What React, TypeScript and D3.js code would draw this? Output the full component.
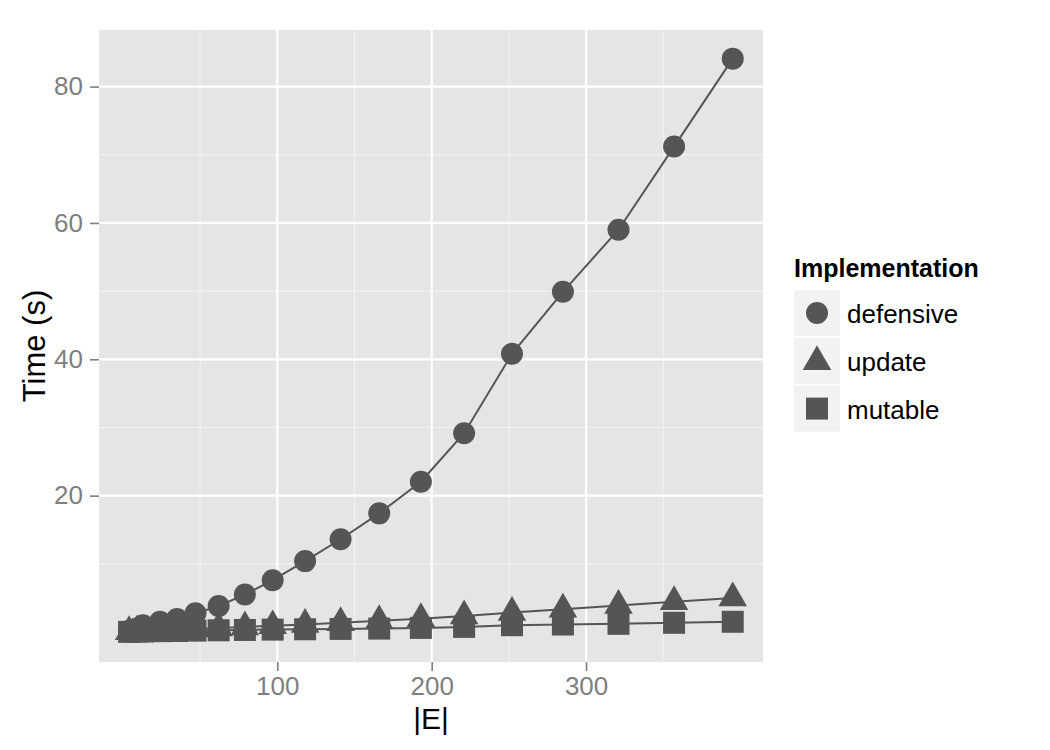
import { useRef, useEffect } from 'react';
import * as d3 from 'd3';

// values
const edges = [4, 9, 13, 24, 35, 47, 62, 79, 97, 118, 141, 166, 193, 221, 252, 285, 321, 357, 395];
const defensive = [0.2, 0.5, 1.0, 1.5, 1.9, 2.75, 3.8, 5.5, 7.6, 10.4, 13.6, 17.4, 22.05, 29.15, 40.8, 49.9, 59.0, 71.2, 84.1];
const update = [0.05, 0.1, 0.15, 0.25, 0.35, 0.45, 0.6, 0.75, 0.9, 1.1, 1.35, 1.65, 1.95, 2.35, 2.85, 3.35, 3.9, 4.45, 5.0];
const mutable = [0.02, 0.05, 0.08, 0.12, 0.15, 0.2, 0.25, 0.3, 0.35, 0.4, 0.45, 0.5, 0.6, 0.75, 1.0, 1.1, 1.2, 1.35, 1.5];

const seriesNames = ['defensive', 'update', 'mutable'];
const seriesShapes = ['circle', 'triangle', 'square'];
const xTicks = [100, 200, 300];
const xMinor = [50, 150, 250, 350];
const yTicks = [20, 40, 60, 80];
const yMinor = [10, 30, 50, 70];

const FONT = '"Liberation Sans", Arial, Helvetica, sans-serif';
const INK = '#555555';

// R style plotting symbols
const shapePath = (shape: string, s: number) => {
    if (shape === 'circle') {
        return `M${s},0A${s},${s} 0 1,1 ${-s},0A${s},${s} 0 1,1 ${s},0Z`;
    }
    if (shape === 'triangle') {
        const r = 1.5551 * s;
        const hx = 1.3468 * s;
        const yc = 0.7776 * s;
        return `M0,${-r}L${hx},${yc}L${-hx},${yc}Z`;
    }
    return `M${-s},${-s}H${s}V${s}H${-s}Z`;
};

const App = () => {
    const svgRef = useRef<SVGSVGElement | null>(null);

    useEffect(() => {
        document.body.style.margin = '0';
        const svgElement = svgRef.current;
        if (!svgElement) return;

        const width = 1050;
        const height = 750;
        const panel = { left: 99, right: 763, top: 30, bottom: 662 };

        const svg = d3.select(svgElement)
            .attr('width', width)
            .attr('height', height);

        svg.selectAll('*').remove();

        const x = d3.scaleLinear()
            .domain([-15.5, 414.6])
            .range([panel.left, panel.right]);

        const y = d3.scaleLinear()
            .domain([-4.4, 88.3])
            .range([panel.bottom, panel.top]);

        svg.append('rect')
            .attr('x', 0).attr('y', 0)
            .attr('width', width).attr('height', height)
            .attr('fill', '#ffffff');

        svg.append('rect')
            .attr('x', panel.left)
            .attr('y', panel.top)
            .attr('width', panel.right - panel.left)
            .attr('height', panel.bottom - panel.top)
            .attr('fill', '#e5e5e5');

        // minor grid
        const grid = svg.append('g');
        grid.selectAll('.xminor').data(xMinor).enter().append('line')
            .attr('x1', d => x(d)).attr('x2', d => x(d))
            .attr('y1', panel.top).attr('y2', panel.bottom)
            .attr('stroke', '#f2f2f2').attr('stroke-width', 1.1);
        grid.selectAll('.yminor').data(yMinor).enter().append('line')
            .attr('x1', panel.left).attr('x2', panel.right)
            .attr('y1', d => y(d)).attr('y2', d => y(d))
            .attr('stroke', '#f2f2f2').attr('stroke-width', 1.1);

        // major grid
        grid.selectAll('.xmajor').data(xTicks).enter().append('line')
            .attr('x1', d => x(d)).attr('x2', d => x(d))
            .attr('y1', panel.top).attr('y2', panel.bottom)
            .attr('stroke', '#ffffff').attr('stroke-width', 2.2);
        grid.selectAll('.ymajor').data(yTicks).enter().append('line')
            .attr('x1', panel.left).attr('x2', panel.right)
            .attr('y1', d => y(d)).attr('y2', d => y(d))
            .attr('stroke', '#ffffff').attr('stroke-width', 2.2);

        // axes
        const xAxis = svg.append('g')
            .attr('transform', `translate(0, ${panel.bottom})`)
            .call(d3.axisBottom(x).tickValues(xTicks).tickSize(9).tickPadding(6).tickFormat(d3.format('d')));
        xAxis.select('.domain').remove();
        xAxis.selectAll('line').attr('stroke', '#7f7f7f').attr('stroke-width', 1.6);
        xAxis.selectAll('text')
            .attr('fill', '#7f7f7f')
            .style('font-family', FONT)
            .style('font-size', '26px');

        const yAxis = svg.append('g')
            .attr('transform', `translate(${panel.left}, 0)`)
            .call(d3.axisLeft(y).tickValues(yTicks).tickSize(9).tickPadding(7).tickFormat(d3.format('d')));
        yAxis.select('.domain').remove();
        yAxis.selectAll('line').attr('stroke', '#7f7f7f').attr('stroke-width', 1.6);
        yAxis.selectAll('text')
            .attr('fill', '#7f7f7f')
            .style('font-family', FONT)
            .style('font-size', '26px');

        // axis titles
        svg.append('text')
            .attr('x', (panel.left + panel.right) / 2)
            .attr('y', 729)
            .attr('text-anchor', 'middle')
            .style('font-family', FONT)
            .style('font-size', '30px')
            .attr('fill', '#000')
            .text('|E|');

        svg.append('text')
            .attr('transform', `translate(45, ${(panel.top + panel.bottom) / 2}) rotate(-90)`)
            .attr('text-anchor', 'middle')
            .style('font-family', FONT)
            .style('font-size', '31px')
            .attr('fill', '#000')
            .text('Time (s)');

        // lines and points
        const allSeries = [defensive, update, mutable];
        const line = d3.line<number>()
            .x((_, i) => x(edges[i]))
            .y(d => y(d));

        const plot = svg.append('g');
        allSeries.forEach(values => {
            plot.append('path')
                .datum(values)
                .attr('fill', 'none')
                .attr('stroke', INK)
                .attr('stroke-width', 2)
                .attr('d', line);
        });
        allSeries.forEach((values, k) => {
            plot.selectAll(`.pt${k}`).data(values).enter().append('path')
                .attr('transform', (d, i) => `translate(${x(edges[i])}, ${y(d)})`)
                .attr('d', shapePath(seriesShapes[k], k === 1 ? 10.6 : 11))
                .attr('fill', INK);
        });

        // legend
        const legend = svg.append('g').attr('transform', 'translate(794, 0)');
        legend.append('text')
            .attr('x', 0)
            .attr('y', 277)
            .style('font-family', FONT)
            .style('font-size', '25px')
            .style('font-weight', 'bold')
            .attr('fill', '#000')
            .text('Implementation');

        seriesNames.forEach((name, k) => {
            const top = 290 + k * 47.8;
            legend.append('rect')
                .attr('x', 0).attr('y', top)
                .attr('width', 46).attr('height', 46)
                .attr('fill', '#f2f2f2');
            legend.append('path')
                .attr('transform', `translate(23, ${top + 23 + (k === 1 ? 1 : 0)})`)
                .attr('d', shapePath(seriesShapes[k], k === 1 ? 10.6 : 11))
                .attr('fill', INK);
            legend.append('text')
                .attr('x', 53)
                .attr('y', top + 33)
                .style('font-family', FONT)
                .style('font-size', '26px')
                .attr('fill', '#000')
                .text(name);
        });
    }, []);

    return (
        <div style={{ position: 'absolute', left: 0, top: 0 }}>
            <svg ref={svgRef} width={1050} height={750} style={{ display: 'block' }}></svg>
        </div>
    );
};

export default App;
